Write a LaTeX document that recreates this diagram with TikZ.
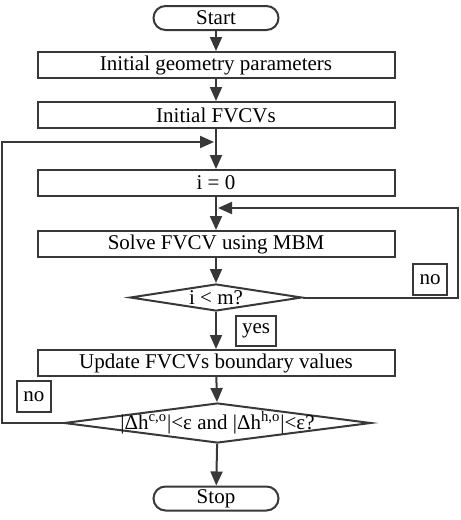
\documentclass[tikz,border=0pt]{standalone}
\usepackage{fontspec}
\setmainfont{Liberation Serif}
\usepackage{tikz}
\usetikzlibrary{shapes.geometric}
\usetikzlibrary{arrows.meta}
\usetikzlibrary{positioning}

\begin{document}
\begin{tikzpicture}[
    x=0.5pt, y=-0.5pt,
    every node/.style={draw=black!78, line width=1pt, font=\fontsize{10.5}{12}\selectfont, inner sep=0pt},
    terminal/.style={rectangle, rounded corners=6pt, minimum width=62.5pt, minimum height=12pt},
    process/.style={rectangle, minimum width=178.5pt, minimum height=13pt},
    decision/.style={diamond, minimum width=#1, aspect=6},
    tag/.style={rectangle, minimum width=17pt, minimum height=15.5pt},
    flow/.style={draw=black!78, line width=1pt, -{Triangle[length=7pt,width=6pt]}},
    line/.style={draw=black!78, line width=1pt},
  ]

  \useasboundingbox (0,0) rectangle (461,520);

  \node[terminal] (start)  at (216, 18)  {Start};
  \node[process]  (geom)   at (216, 65)  {Initial geometry parameters};
  \node[process]  (fvcv)   at (216, 115) {Initial FVCVs};
  \node[process]  (izero)  at (216, 183) {i = 0};
  \node[process]  (solve)  at (216, 244) {Solve FVCV using MBM};
  \node[decision=86pt, minimum height=13.5pt] (ilm) at (216, 297.5) {\makebox[0pt]{i < m?}};
  \node[process]  (update) at (216, 363) {Update FVCVs boundary values};
  \node[decision=153.5pt, minimum height=20pt] (conv) at (217.5, 423)
    {\makebox[0pt]{|Δh\textsuperscript{c,o}|<ε and |Δh\textsuperscript{h,o}|<ε?}};
  \node[terminal] (stop)   at (216, 498.5) {Stop};

  \node[tag] (no1)  at (430, 279.5) {no};
  \node[tag, minimum width=20pt, minimum height=15pt] (yes) at (256, 331) {yes};
  \node[tag] (no2)  at (34, 396.5)  {no};

  \coordinate (outer) at (216, 142);
  \coordinate (inner) at (216, 208);
  \coordinate (r1) at (458, 297.5);
  \coordinate (l1) at (2, 423);

  \draw[flow] (start) -- (geom);
  \draw[flow] (geom) -- (fvcv);
  \draw[flow] (fvcv) -- (izero);
  \draw[flow] (izero) -- (solve);
  \draw[flow] (solve) -- (ilm);
  \draw[flow] (ilm) -- (update);
  \draw[flow] (update) -- (conv);
  \draw[flow] (conv) -- (stop);

  % loops back
  \draw[flow] (ilm.east) -- (r1) |- ([xshift=1pt]inner);
  \draw[flow] (conv.west) -- (l1) |- ([xshift=-1pt]outer);

\end{tikzpicture}
\end{document}
